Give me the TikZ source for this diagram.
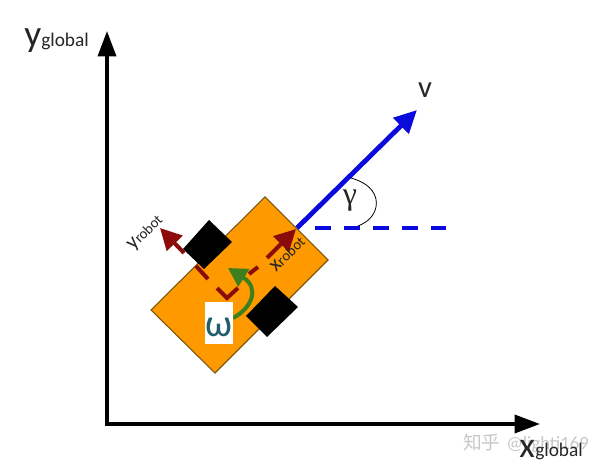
\documentclass[tikz,border=0pt]{standalone}
\usepackage{fontspec}
\setmainfont{Carlito}
\newfontfamily\cjk{Noto Sans CJK SC}
\newfontfamily\gammafont{Liberation Serif}
\usetikzlibrary{arrows.meta}
\definecolor{bodyor}{HTML}{FF9900}
\definecolor{bodyedge}{HTML}{7A5510}
\definecolor{axred}{HTML}{8B0A0A}
\definecolor{velblue}{HTML}{0A0ADC}
\definecolor{spingreen}{HTML}{3B7F1E}
\definecolor{omegateal}{HTML}{1F5F6B}
\tikzset{
  x=0.75pt,y=-0.75pt,
  axisline/.style={draw=black,line width=2.6pt,-{Triangle[length=19pt,width=13.5pt]}},
  robotaxis/.style={draw=axred,line width=3pt},
  robothead/.style={draw=axred,line width=3pt,-{Triangle[length=16pt,width=16pt]}},
  wheel/.style={fill=black},
  smalllabel/.style={font=\fontsize{14.5}{15}\selectfont,inner sep=0pt,text=black!85},
  roblabel/.style={inner sep=0pt,text=black!85,rotate=45,anchor=base west},
}
\begin{document}
\begin{tikzpicture}
\useasboundingbox (0,0) rectangle (600,470);
% named points
\coordinate (ytip) at (107,31);
\coordinate (xtip) at (540,424);
\coordinate (hub) at (297,228);
\coordinate (vtip) at (417,110);
\coordinate (dashstart) at (315,228);
\coordinate (dashend) at (446,228);
\coordinate (corner) at (227,298);
% axes
\draw[axisline] (107,425.5) -- (ytip);
\draw[axisline] (105.5,424) -- (xtip);
% labels of axes
\node[anchor=base west,inner sep=0pt,font=\fontsize{28}{28}\selectfont,text=black!85] (ylab) at (24,47) {y};
\node[anchor=base west,smalllabel] (ylab2) at (41,47) {global};
% watermark
\node[anchor=base west,inner sep=0pt,text=black!22,font=\cjk\fontsize{14}{14}\selectfont] (wm1) at (463,449) {知乎};
\node[anchor=base west,inner sep=0pt,text=black!22,font=\fontsize{14}{14}\selectfont] (wm2) at (506,449) {@lighti169};
\node[anchor=base west,inner sep=0pt,font=\fontsize{27}{27}\selectfont,text=black!85] (xlab) at (519,457) {x};
\node[anchor=base west,smalllabel] (xlab2) at (535,456) {global};
% robot body
\filldraw[fill=bodyor,draw=bodyedge,line width=0.8pt] (265,197) -- (328,260) -- (215,373) -- (151,310) -- cycle;
% robot axes (the wheel covers part of the y axis)
\draw[robotaxis] (217,288) -- (corner) -- (238,288);
\draw[robotaxis] (208,279) -- (196,266);
\draw[robothead] (184,253) -- (160,228);
\draw[robotaxis] (249,274) -- (258,267);
\draw[robothead] (267,258) -- (296,229);
% wheels
\fill[wheel] (209,220) -- (232,242) -- (204,269) -- (183,249) -- cycle;
\fill[wheel] (275,286) -- (298,307) -- (267,337) -- (246,316) -- cycle;
% blue vector
\draw[draw=velblue,line width=3.6pt,-{Triangle[length=17pt,width=16pt]}] (hub) -- (vtip);
\draw[draw=velblue,line width=3pt,dash pattern=on 12pt off 9.75pt] (dashstart) -- (dashend);
% angle arc
\draw[black,line width=0.6pt] (351,178) .. controls (372,184) and (378,196) .. (376,207) .. controls (374,216) and (368,222) .. (358,226);
\node[inner sep=0pt,font=\gammafont\fontsize{24}{24}\selectfont,text=black!85] (gam) at (350,201) {γ};
\node[anchor=base,inner sep=0pt,font=\fontsize{23}{23}\selectfont,text=black!85] (vlab) at (425,98) {v};
% x/y robot labels
\node[roblabel] (xrob) at (276,273) {\fontsize{16}{16}\selectfont x\fontsize{11}{11}\selectfont robot};
\node[roblabel] (yrob) at (133,251) {\fontsize{16}{16}\selectfont y\fontsize{11}{11}\selectfont robot};
% omega
\draw[draw=spingreen,line width=3pt,-{Triangle[length=14pt,width=15pt]}] (233,318) .. controls (252,308) and (260,288) .. (228,268);
\node[fill=white,minimum width=21pt,minimum height=31.5pt,inner sep=0pt,text=omegateal,font=\fontsize{29}{29}\selectfont] (om) at (219,323) {\smash{\raisebox{-10.5pt}{ω}}};
\end{tikzpicture}
\end{document}
